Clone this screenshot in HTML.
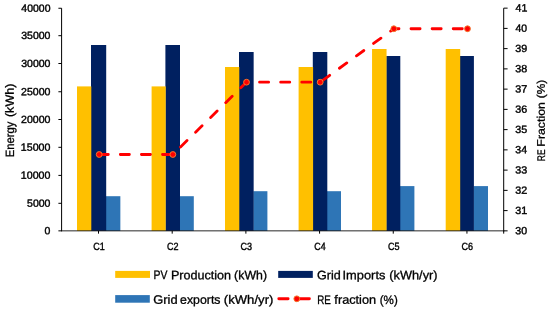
<!DOCTYPE html>
<html><head><meta charset="utf-8"><title>Chart</title>
<style>html,body{margin:0;padding:0;background:#fff}svg{display:block;text-rendering:geometricPrecision}text{font-family:"Liberation Sans",sans-serif;fill:#000;stroke:#000;stroke-width:0.4px}</style></head>
<body>
<svg width="550" height="310" viewBox="0 0 550 310">
<rect width="550" height="310" fill="#fff"/>
<rect x="105.90" y="196.20" width="14.45" height="34.65" fill="#2E75B6"/>
<rect x="91.00" y="45.00" width="15.20" height="185.85" fill="#002060"/>
<rect x="77.00" y="86.40" width="14.30" height="144.45" fill="#FFC000"/>
<rect x="179.70" y="196.20" width="14.10" height="34.65" fill="#2E75B6"/>
<rect x="165.40" y="45.00" width="14.60" height="185.85" fill="#002060"/>
<rect x="151.60" y="86.40" width="14.10" height="144.45" fill="#FFC000"/>
<rect x="253.35" y="191.20" width="14.05" height="39.65" fill="#2E75B6"/>
<rect x="239.00" y="52.00" width="14.65" height="178.85" fill="#002060"/>
<rect x="225.00" y="67.00" width="14.30" height="163.85" fill="#FFC000"/>
<rect x="327.00" y="191.20" width="14.00" height="39.65" fill="#2E75B6"/>
<rect x="312.80" y="52.00" width="14.50" height="178.85" fill="#002060"/>
<rect x="298.60" y="67.00" width="14.50" height="163.85" fill="#FFC000"/>
<rect x="400.00" y="186.10" width="14.40" height="44.75" fill="#2E75B6"/>
<rect x="386.25" y="56.00" width="14.05" height="174.85" fill="#002060"/>
<rect x="372.05" y="49.00" width="14.50" height="181.85" fill="#FFC000"/>
<rect x="473.60" y="186.10" width="14.40" height="44.75" fill="#2E75B6"/>
<rect x="459.90" y="56.00" width="14.00" height="174.85" fill="#002060"/>
<rect x="445.70" y="49.00" width="14.50" height="181.85" fill="#FFC000"/>
<g stroke="#000" stroke-width="1" fill="none">
<path d="M61.6 8.2 V231.25M503.7 8.2 V231.25"/><path d="M61.1 230.85 H504.2" stroke-width="0.85"/>
<path d="M58.4 230.85 H61.6"/><path d="M58.4 203.30 H61.6"/><path d="M58.4 175.40 H61.6"/><path d="M58.4 147.30 H61.6"/><path d="M58.4 119.50 H61.6"/><path d="M58.4 91.75 H61.6"/><path d="M58.4 63.50 H61.6"/><path d="M58.4 35.70 H61.6"/><path d="M58.4 8.25 H61.6"/>
<path d="M503.7 230.85 H507.59999999999997"/><path d="M503.7 210.60 H507.59999999999997"/><path d="M503.7 190.36 H507.59999999999997"/><path d="M503.7 170.11 H507.59999999999997"/><path d="M503.7 149.87 H507.59999999999997"/><path d="M503.7 129.62 H507.59999999999997"/><path d="M503.7 109.38 H507.59999999999997"/><path d="M503.7 89.13 H507.59999999999997"/><path d="M503.7 68.89 H507.59999999999997"/><path d="M503.7 48.64 H507.59999999999997"/><path d="M503.7 28.40 H507.59999999999997"/><path d="M503.7 8.15 H507.59999999999997"/>
<path d="M98.50 230.85 V233.65"/><path d="M172.19 230.85 V233.65"/><path d="M245.88 230.85 V233.65"/><path d="M319.57 230.85 V233.65"/><path d="M393.26 230.85 V233.65"/><path d="M466.95 230.85 V233.65"/><path d="M503.7 230.85 V233.65"/>
</g>
<text transform="translate(44.61 234.25) matrix(1 .0005 .0005 1 0 0)" font-size="10.5" textLength="5.85" lengthAdjust="spacingAndGlyphs">0</text>
<text transform="translate(27.03 206.70) matrix(1 .0005 .0005 1 0 0)" font-size="10.5" textLength="23.43" lengthAdjust="spacingAndGlyphs">5000</text>
<text transform="translate(20.83 178.80) matrix(1 .0005 .0005 1 0 0)" font-size="10.5" textLength="29.63" lengthAdjust="spacingAndGlyphs">10000</text>
<text transform="translate(20.83 150.70) matrix(1 .0005 .0005 1 0 0)" font-size="10.5" textLength="29.63" lengthAdjust="spacingAndGlyphs">15000</text>
<text transform="translate(21.00 122.90) matrix(1 .0005 .0005 1 0 0)" font-size="10.5" textLength="29.46" lengthAdjust="spacingAndGlyphs">20000</text>
<text transform="translate(21.00 95.15) matrix(1 .0005 .0005 1 0 0)" font-size="10.5" textLength="29.46" lengthAdjust="spacingAndGlyphs">25000</text>
<text transform="translate(21.17 66.90) matrix(1 .0005 .0005 1 0 0)" font-size="10.5" textLength="29.29" lengthAdjust="spacingAndGlyphs">30000</text>
<text transform="translate(21.17 39.10) matrix(1 .0005 .0005 1 0 0)" font-size="10.5" textLength="29.29" lengthAdjust="spacingAndGlyphs">35000</text>
<text transform="translate(21.34 11.65) matrix(1 .0005 .0005 1 0 0)" font-size="10.5" textLength="29.12" lengthAdjust="spacingAndGlyphs">40000</text>
<text transform="translate(515.37 234.25) matrix(1 .0005 .0005 1 0 0)" font-size="10.5" textLength="11.80" lengthAdjust="spacingAndGlyphs">30</text>
<text transform="translate(515.36 214.00) matrix(1 .0005 .0005 1 0 0)" font-size="10.5" textLength="11.97" lengthAdjust="spacingAndGlyphs">31</text>
<text transform="translate(515.36 193.76) matrix(1 .0005 .0005 1 0 0)" font-size="10.5" textLength="11.97" lengthAdjust="spacingAndGlyphs">32</text>
<text transform="translate(515.36 173.51) matrix(1 .0005 .0005 1 0 0)" font-size="10.5" textLength="11.97" lengthAdjust="spacingAndGlyphs">33</text>
<text transform="translate(515.37 153.27) matrix(1 .0005 .0005 1 0 0)" font-size="10.5" textLength="11.80" lengthAdjust="spacingAndGlyphs">34</text>
<text transform="translate(515.36 133.02) matrix(1 .0005 .0005 1 0 0)" font-size="10.5" textLength="11.97" lengthAdjust="spacingAndGlyphs">35</text>
<text transform="translate(515.36 112.78) matrix(1 .0005 .0005 1 0 0)" font-size="10.5" textLength="11.97" lengthAdjust="spacingAndGlyphs">36</text>
<text transform="translate(515.36 92.53) matrix(1 .0005 .0005 1 0 0)" font-size="10.5" textLength="11.97" lengthAdjust="spacingAndGlyphs">37</text>
<text transform="translate(515.36 72.29) matrix(1 .0005 .0005 1 0 0)" font-size="10.5" textLength="11.97" lengthAdjust="spacingAndGlyphs">38</text>
<text transform="translate(515.36 52.04) matrix(1 .0005 .0005 1 0 0)" font-size="10.5" textLength="11.97" lengthAdjust="spacingAndGlyphs">39</text>
<text transform="translate(515.54 31.80) matrix(1 .0005 .0005 1 0 0)" font-size="10.5" textLength="11.62" lengthAdjust="spacingAndGlyphs">40</text>
<text transform="translate(515.53 11.55) matrix(1 .0005 .0005 1 0 0)" font-size="10.5" textLength="11.80" lengthAdjust="spacingAndGlyphs">41</text>
<text transform="translate(93.28 250.40) matrix(1 .0005 .0005 1 0 0)" font-size="10.5" textLength="11.54" lengthAdjust="spacingAndGlyphs">C1</text>
<text transform="translate(166.94 250.40) matrix(1 .0005 .0005 1 0 0)" font-size="10.5" textLength="11.54" lengthAdjust="spacingAndGlyphs">C2</text>
<text transform="translate(240.60 250.40) matrix(1 .0005 .0005 1 0 0)" font-size="10.5" textLength="11.54" lengthAdjust="spacingAndGlyphs">C3</text>
<text transform="translate(314.26 250.40) matrix(1 .0005 .0005 1 0 0)" font-size="10.5" textLength="11.39" lengthAdjust="spacingAndGlyphs">C4</text>
<text transform="translate(387.92 250.40) matrix(1 .0005 .0005 1 0 0)" font-size="10.5" textLength="11.54" lengthAdjust="spacingAndGlyphs">C5</text>
<text transform="translate(461.58 250.40) matrix(1 .0005 .0005 1 0 0)" font-size="10.5" textLength="11.54" lengthAdjust="spacingAndGlyphs">C6</text>
<polyline points="99.20,154.50 172.86,154.50 246.52,82.20 320.18,82.20 393.84,28.75 467.50,28.75" fill="none" stroke="#FF0000" stroke-width="2.8" stroke-linecap="round" stroke-linejoin="round" stroke-dasharray="9.1 12"/>
<circle cx="99.20" cy="154.50" r="2.9" fill="#FF0000" stroke="#F4762C" stroke-width="1"/>
<circle cx="172.86" cy="154.50" r="2.9" fill="#FF0000" stroke="#F4762C" stroke-width="1"/>
<circle cx="246.52" cy="82.20" r="2.9" fill="#FF0000" stroke="#F4762C" stroke-width="1"/>
<circle cx="320.18" cy="82.20" r="2.9" fill="#FF0000" stroke="#F4762C" stroke-width="1"/>
<circle cx="393.84" cy="28.75" r="2.9" fill="#FF0000" stroke="#F4762C" stroke-width="1"/>
<circle cx="467.50" cy="28.75" r="2.9" fill="#FF0000" stroke="#F4762C" stroke-width="1"/>
<text transform="translate(13.70 157.28) rotate(-90) matrix(1 .0005 .0005 1 0 0)" style="stroke-width:0.3px" font-size="12.0" textLength="35.68" lengthAdjust="spacingAndGlyphs">Energy</text>
<text transform="translate(13.70 117.09) rotate(-90) matrix(1 .0005 .0005 1 0 0)" style="stroke-width:0.3px" font-size="12.0" textLength="33.54" lengthAdjust="spacingAndGlyphs">(kWh)</text>
<text transform="translate(544.75 161.16) rotate(-90) matrix(1 .0005 .0005 1 0 0)" style="stroke-width:0.3px" font-size="11.1" textLength="11.66" lengthAdjust="spacingAndGlyphs">RE</text>
<text transform="translate(544.75 146.67) rotate(-90) matrix(1 .0005 .0005 1 0 0)" style="stroke-width:0.3px" font-size="11.1" textLength="44.66" lengthAdjust="spacingAndGlyphs">Fraction</text>
<text transform="translate(544.75 98.16) rotate(-90) matrix(1 .0005 .0005 1 0 0)" style="stroke-width:0.3px" font-size="11.1" textLength="18.47" lengthAdjust="spacingAndGlyphs">(%)</text>
<text transform="translate(153.44 279.30) matrix(1 .0005 .0005 1 0 0)" style="stroke-width:0.3px" font-size="12.2" textLength="13.91" lengthAdjust="spacingAndGlyphs">PV</text>
<text transform="translate(170.92 279.30) matrix(1 .0005 .0005 1 0 0)" style="stroke-width:0.3px" font-size="12.2" textLength="60.19" lengthAdjust="spacingAndGlyphs">Production</text>
<text transform="translate(234.12 279.30) matrix(1 .0005 .0005 1 0 0)" style="stroke-width:0.3px" font-size="12.2" textLength="32.92" lengthAdjust="spacingAndGlyphs">(kWh)</text>
<text transform="translate(153.19 303.70) matrix(1 .0005 .0005 1 0 0)" style="stroke-width:0.3px" font-size="12.2" textLength="24.43" lengthAdjust="spacingAndGlyphs">Grid</text>
<text transform="translate(180.12 303.70) matrix(1 .0005 .0005 1 0 0)" style="stroke-width:0.3px" font-size="12.2" textLength="40.37" lengthAdjust="spacingAndGlyphs">exports</text>
<text transform="translate(223.78 303.70) matrix(1 .0005 .0005 1 0 0)" style="stroke-width:0.3px" font-size="12.2" textLength="49.60" lengthAdjust="spacingAndGlyphs">(kWh/yr)</text>
<text transform="translate(317.01 279.30) matrix(1 .0005 .0005 1 0 0)" style="stroke-width:0.3px" font-size="12.2" textLength="23.80" lengthAdjust="spacingAndGlyphs">Grid</text>
<text transform="translate(342.55 279.30) matrix(1 .0005 .0005 1 0 0)" style="stroke-width:0.3px" font-size="12.2" textLength="42.86" lengthAdjust="spacingAndGlyphs">Imports</text>
<text transform="translate(389.30 279.30) matrix(1 .0005 .0005 1 0 0)" style="stroke-width:0.3px" font-size="12.2" textLength="48.26" lengthAdjust="spacingAndGlyphs">(kWh/yr)</text>
<text transform="translate(317.23 303.70) matrix(1 .0005 .0005 1 0 0)" style="stroke-width:0.3px" font-size="12.2" textLength="13.63" lengthAdjust="spacingAndGlyphs">RE</text>
<text transform="translate(334.35 303.70) matrix(1 .0005 .0005 1 0 0)" style="stroke-width:0.3px" font-size="12.2" textLength="41.77" lengthAdjust="spacingAndGlyphs">fraction</text>
<text transform="translate(379.76 303.70) matrix(1 .0005 .0005 1 0 0)" style="stroke-width:0.3px" font-size="12.2" textLength="17.99" lengthAdjust="spacingAndGlyphs">(%)</text>
<rect x="115.2" y="270.9" width="34.8" height="7" fill="#FFC000"/>
<rect x="278.2" y="270.9" width="34.6" height="7" fill="#002060"/>
<rect x="115.2" y="295.1" width="34.6" height="7.6" fill="#2E75B6"/>
<path d="M278.8 298.7 H288.1 M297 298.7 H309.4" stroke="#FF0000" stroke-width="2.9" stroke-linecap="round" fill="none"/>
<circle cx="296.8" cy="298.8" r="2.9" fill="#FF0000" stroke="#F4762C" stroke-width="1"/>
</svg>
</body></html>
